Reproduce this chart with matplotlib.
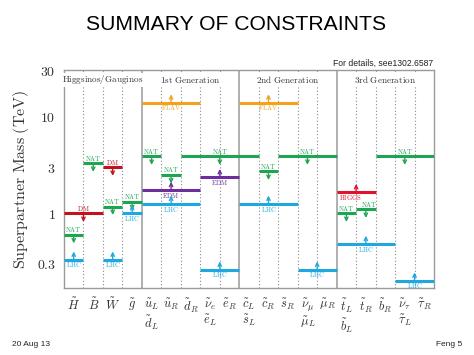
import matplotlib
matplotlib.use("Agg")
import matplotlib.pyplot as plt
from matplotlib.transforms import blended_transform_factory

plt.rcParams['mathtext.fontset'] = 'cm'

# ---------------- data ----------------
tick_labels = [r"$\tilde{H}$", r"$\tilde{B}$", r"$\tilde{W}$", r"$\tilde{g}$",
               "$\\tilde{u}_L$\n$\\tilde{d}_L$", r"$\tilde{u}_R$", r"$\tilde{d}_R$",
               "$\\tilde{\\nu}_e$\n$\\tilde{e}_L$", r"$\tilde{e}_R$",
               "$\\tilde{c}_L$\n$\\tilde{s}_L$", r"$\tilde{c}_R$", r"$\tilde{s}_R$",
               "$\\tilde{\\nu}_\\mu$\n$\\tilde{\\mu}_L$", r"$\tilde{\mu}_R$",
               "$\\tilde{t}_L$\n$\\tilde{b}_L$", r"$\tilde{t}_R$", r"$\tilde{b}_R$",
               "$\\tilde{\\nu}_\\tau$\n$\\tilde{\\tau}_L$", r"$\tilde{\tau}_R$"]
group_names = ["Higgsinos/Gauginos", "1st Generation", "2nd Generation", "3rd Generation"]
group_starts = [0, 4, 9, 14]
group_ends = [4, 9, 14, 19]

# constraint segments: first column, last column, mass (TeV), kind
seg_start = [0, 0, 0, 1, 2, 2, 2, 3, 3,
             4, 4, 5, 6, 4, 7, 4, 7,
             9, 10, 11, 9, 12,
             14, 14, 15, 14, 17, 16]
seg_end   = [0, 0, 1, 1, 2, 2, 2, 3, 3,
             6, 4, 5, 9, 6, 8, 6, 8,
             11, 10, 13, 11, 13,
             15, 14, 15, 16, 18, 18]
seg_mass  = [0.6, 0.33, 1.0, 3.3, 3.0, 1.18, 0.33, 1.32, 1.0,
             14, 3.9, 2.5, 3.9, 1.74, 2.36, 1.25, 0.26,
             14, 2.72, 3.9, 1.25, 0.26,
             1.65, 1.0, 1.1, 0.48, 0.2, 3.9]
seg_kind  = ["NAT", "LHC", "DM", "NAT", "DM", "NAT", "LHC", "NAT", "LHC",
             "FLAV", "NAT", "NAT", "NAT", "EDM", "EDM", "LHC", "LHC",
             "FLAV", "NAT", "NAT", "LHC", "LHC",
             "HIGGS", "NAT", "NAT", "LHC", "LHC", "NAT"]

y_ticks = [0.3, 1, 3, 10, 30]
y_tick_labels = ["0.3", "1", "3", "10", "30"]

# ---------------- styles ----------------
colors = {"NAT": "#1ea552", "LHC": "#1fa8e0", "DM": "#c2121f", "FLAV": "#f2a21c",
          "EDM": "#6b2e9c", "HIGGS": "#e2122c"}
direction = {"NAT": "down", "DM": "down", "LHC": "up", "FLAV": "up", "EDM": "up", "HIGGS": "up"}
label_nudge = {22: -4.0, 24: 2.5}   # horizontal label nudges in points (crowded 3rd gen)

fig = plt.figure(figsize=(4.74, 3.55), dpi=100)
ax = fig.add_axes([64/474, 67/355, 370/474, 218/355])
ax.set_yscale("log")
ymin, ymax = 0.169, 30.6
ax.set_ylim(ymin, ymax)
ax.set_xlim(0, len(tick_labels))

# grid lines
for b in range(1, len(tick_labels)):
    if b in group_starts:
        ax.axvline(b, color="#9a9a9a", lw=1.1, zorder=1)
    else:
        ax.axvline(b, color="#8a8a8a", lw=0.8, ls=(0, (1, 2)), zorder=1)

for sp in ax.spines.values():
    sp.set_color("#9a9a9a")
    sp.set_linewidth(1.0)

# group labels
tr = blended_transform_factory(ax.transData, ax.transAxes)
for name, s, e in zip(group_names, group_starts, group_ends):
    ax.text((s + e) / 2, 0.955, r"$\mathrm{" + name.replace(" ", r"\ ") + "}$",
            transform=tr, ha="center", va="center", fontsize=6.6,
            color="#333333", zorder=3,
            bbox=dict(facecolor="white", edgecolor="none", pad=0.5))

pix_per_dec = 96.6
arrow_fac = 10 ** (8.5 / pix_per_dec)

for i, (s, e, m, k) in enumerate(zip(seg_start, seg_end, seg_mass, seg_kind)):
    c = colors[k]
    ax.plot([s, e + 1], [m, m], color=c, lw=2.2, solid_capstyle="butt", zorder=4)
    xc = (s + e + 1) / 2
    dx = label_nudge.get(i, 0.0)
    if direction[k] == "down":
        ax.annotate("", xy=(xc, m / arrow_fac), xytext=(xc, m),
                    arrowprops=dict(arrowstyle="->", color=c, lw=1.0,
                                    shrinkA=0, shrinkB=0, mutation_scale=6), zorder=5)
        ax.annotate(r"$\mathrm{" + k + "}$", xy=(xc, m), xytext=(dx, 0.4),
                    textcoords="offset points", ha="center", va="bottom",
                    fontsize=4.8, family="Liberation Serif", color=c, zorder=5)
    else:
        ax.annotate("", xy=(xc, m * arrow_fac), xytext=(xc, m),
                    arrowprops=dict(arrowstyle="->", color=c, lw=1.0,
                                    shrinkA=0, shrinkB=0, mutation_scale=6), zorder=5)
        ax.annotate(r"$\mathrm{" + k + "}$", xy=(xc, m), xytext=(dx, -0.4),
                    textcoords="offset points", ha="center", va="top",
                    fontsize=4.8, family="Liberation Serif", color=c, zorder=5)

# ticks
ax.set_yticks(y_ticks)
ax.set_yticklabels([r"$\mathrm{" + t + "}$" for t in y_tick_labels], fontsize=10)
ax.yaxis.set_minor_locator(matplotlib.ticker.NullLocator())
ax.set_xticks([i + 0.5 for i in range(len(tick_labels))])
ax.set_xticklabels(tick_labels, fontsize=9, linespacing=1.1, va="top")
ax.tick_params(axis="both", length=0, colors="#333333")
ax.tick_params(axis="y", pad=6)
ax.tick_params(axis="x", pad=6)
ax.set_ylabel(r"$\mathrm{Superpartner\ Mass\ (TeV)}$", fontsize=11.5, color="#333333", labelpad=4)

# figure texts
fig.text(236/474, 1 - 24/355, "SUMMARY OF CONSTRAINTS", ha="center", va="center",
         fontsize=15.2, family="Liberation Sans", color="black")
fig.text(433/474, 1 - 63/355, "For details, see1302.6587", ha="right", va="center",
         fontsize=6.2, family="Liberation Sans", color="#222222")
fig.text(12/474, 1 - 345/355, "20 Aug 13", ha="left", va="center",
         fontsize=6, family="Liberation Sans", color="#222222")
fig.text(462/474, 1 - 345/355, "Feng 5", ha="right", va="center",
         fontsize=6, family="Liberation Sans", color="#222222")

fig.savefig("out.png", dpi=100)
